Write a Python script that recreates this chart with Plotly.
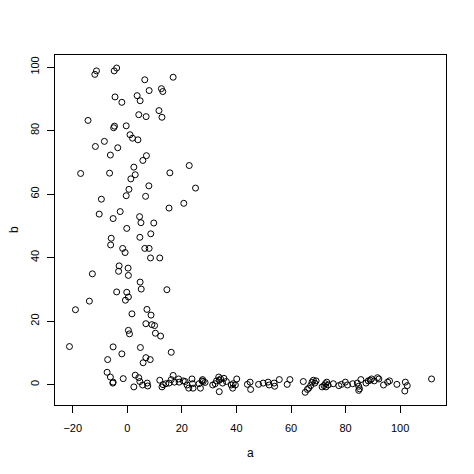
import plotly.graph_objects as go

# values (a, b)
a_vals = [
    -11.3, -11.9, -3.9, -4.8, 6.4, 16.8, 12.5, 13.0, 8.0, -4.5,
    -2.0, 3.6, 4.7, 11.6, 12.7, 4.2, 6.9, -14.4, -4.7, -5.0,
    -0.4, 1.0, 1.9, 3.9, -8.4, -11.7, -3.5, -6.2, 7.0, 5.7,
    2.4, 22.7, -17.1, -6.5, 2.9, 1.3, 15.6, 7.9, 25.0, 0.6,
    -0.4, 6.7, -9.5, 20.7, 15.3, -10.3, -2.6, -5.2, 4.5, 5.0,
    9.7, -0.2, 4.6, 8.6, -5.9, -6.1, -1.7, -0.8, 6.4, 8.0,
    8.5, 11.9, -3.0, -3.2, 0.3, 0.4, -12.8, 4.7, 5.1, 14.5,
    -3.9, -0.2, 0.4, -0.7, -13.9, -19.0, 1.7, 7.2, 8.7, 6.8,
    9.0, 10.0, 0.4, 0.8, 10.3, 12.2, -21.2, -5.2, 4.8, 16.1,
    -2.0, -7.2, 6.8, 5.8, 8.4, -7.4, -6.2, -5.2, -5.3, -1.5,
    2.9, 4.2, 4.6, 2.4, 5.6, 7.3, 7.5,
    11.9, 13.1, 12.7, 14.1, 15.3, 16.1, 16.8, 17.3, 18.8, 19.0,
    20.5, 21.2, 21.9, 22.5, 23.7, 23.9, 24.1, 26.3, 27.4, 27.8,
    27.6, 28.5, 26.8, 31.3, 32.2, 32.7, 33.5, 33.7, 34.2, 33.7,
    34.9, 35.4, 36.3, 38.1, 38.8, 39.6, 40.1, 38.6, 44.0, 45.0,
    45.2, 48.1, 49.8, 51.6, 52.0, 53.8, 54.0, 55.7, 58.6, 59.6,
    64.5, 65.2, 66.0, 66.5, 67.2, 67.7, 68.2, 68.7, 69.2, 71.4,
    72.1, 72.6, 73.1, 73.6, 72.8, 75.5, 77.5, 78.5, 79.9, 80.7,
    82.6, 84.3, 84.8, 85.1, 85.6, 84.8, 87.5, 88.3, 89.0, 89.5,
    90.5, 91.7, 92.2, 93.9, 95.4, 96.1, 98.8, 101.9, 102.6, 101.7,
    111.5,
]
b_vals = [
    98.8, 97.7, 99.7, 98.8, 96.0, 96.8, 93.2, 92.3, 92.6, 90.6,
    88.9, 91.0, 89.4, 86.3, 84.2, 85.0, 84.4, 83.2, 81.4, 80.9,
    81.5, 78.7, 77.6, 77.1, 76.6, 75.0, 74.6, 72.3, 72.1, 70.6,
    68.5, 69.0, 66.5, 66.6, 66.1, 64.8, 66.7, 62.6, 61.9, 61.5,
    59.5, 59.3, 58.4, 57.1, 55.6, 53.7, 54.5, 52.3, 52.9, 51.0,
    50.9, 49.2, 46.4, 47.5, 46.1, 44.0, 42.9, 41.6, 42.9, 42.9,
    39.9, 39.9, 37.4, 35.7, 36.7, 34.4, 34.9, 32.3, 30.1, 29.9,
    29.2, 29.1, 27.6, 26.6, 26.3, 23.6, 22.3, 23.7, 21.9, 19.2,
    18.9, 18.6, 17.1, 16.0, 16.2, 15.3, 12.0, 11.9, 11.7, 10.2,
    9.7, 7.9, 8.5, 6.9, 7.9, 3.9, 2.4, 0.8, 0.5, 1.9,
    3.0, 2.2, 1.0, -0.7, -0.1, 0.5, -0.4,
    1.4, 0.0, -0.7, 0.3, 0.5, 1.6, 2.9, 0.8, 1.8, 0.8,
    1.2, 1.0, -0.1, -1.1, 1.8, 0.3, -1.1, 0.3, 1.2, 1.0,
    1.6, 0.7, -1.1, -0.1, 0.3, 1.2, 2.4, 1.4, 1.8, -2.2,
    0.5, 2.0, 1.0, -0.1, 0.3, -0.1, 1.8, -1.1, 0.1, 0.8,
    -1.5, 0.1, 0.5, 0.8, -0.1, 0.5, -0.5, 1.6, 0.1, 1.6,
    1.0, -2.4, -1.5, -1.1, -0.3, 0.8, 1.4, 0.5, 1.2, -0.7,
    -0.3, 0.3, 0.8, -0.1, -0.7, 0.3, -0.3, 0.1, 0.8, -0.1,
    0.3, 0.5, -0.5, -1.3, 1.6, -1.8, 0.5, 1.2, 1.4, 1.8,
    1.2, 2.2, 1.8, -0.1, 0.8, 1.2, 0.1, 0.8, -0.3, -2.0,
    1.8,
]
x_ticks = [-20, 0, 20, 40, 60, 80, 100]
y_ticks = [0, 20, 40, 60, 80, 100]

FONT = "Liberation Sans, Arial, sans-serif"

fig = go.Figure()
fig.add_trace(go.Scatter(
    x=a_vals, y=b_vals, mode="markers",
    marker=dict(symbol="circle-open", size=6, color="black", line=dict(width=1, color="black")),
    showlegend=False,
))

axis_common = dict(
    showgrid=False, zeroline=False,
    showline=True, linecolor="black", linewidth=1, mirror=True,
    ticks="outside", ticklen=7, tickwidth=1, tickcolor="black",
    tickfont=dict(family=FONT, size=11, color="black"),
)
fig.update_xaxes(range=[-26.5, 116.8], tickvals=x_ticks, ticklabelstandoff=6, **axis_common)
fig.update_yaxes(range=[-6.4, 103.8], tickvals=y_ticks, tickangle=-90, ticklabelstandoff=4, **axis_common)

# axis titles placed like R's mtext
fig.add_annotation(text="a", xref="paper", yref="paper", x=0.5, y=0, yanchor="middle",
                   yshift=-48, showarrow=False, font=dict(family=FONT, size=12, color="black"))
fig.add_annotation(text="b", xref="paper", yref="paper", x=0, y=0.5, xanchor="center",
                   xshift=-41, textangle=-90, showarrow=False, font=dict(family=FONT, size=12, color="black"))

# page body adds an 8px offset, so the figure is a bit smaller than the window
fig.update_layout(
    width=466, height=466,
    margin=dict(l=47, r=28, t=47, b=69),
    plot_bgcolor="white", paper_bgcolor="white",
    font=dict(family=FONT, color="black"),
)

fig.write_html("out.html")
